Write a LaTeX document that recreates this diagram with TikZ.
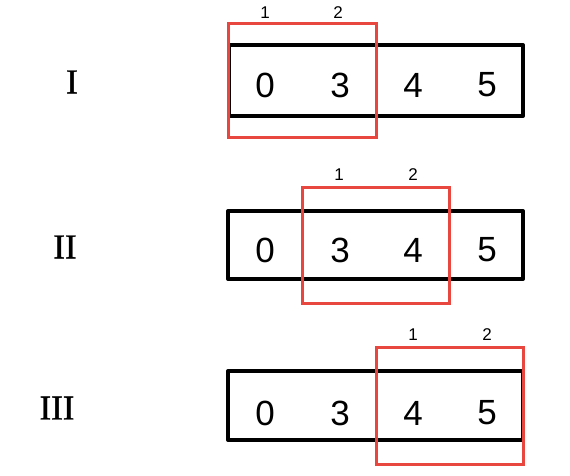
\documentclass[tikz,border=0pt]{standalone}
\usepackage{fontspec}
\setmainfont{Liberation Sans}
\newfontfamily\romanfont[FakeBold=1.2]{Liberation Serif}
\definecolor{winred}{HTML}{E8473F}
\begin{document}
\begin{tikzpicture}[x=1pt,y=-1pt,
  arr/.style={draw=black,line width=4pt,line join=round},
  win/.style={draw=winred,line width=3pt},
  digit/.style={inner sep=0pt,font=\fontsize{35}{35}\selectfont},
  idx/.style={inner sep=0pt,font=\fontsize{17}{17}\selectfont},
  rom/.style={inner sep=0pt,font=\romanfont\fontsize{35}{35}\selectfont}]
\useasboundingbox (0,0) rectangle (570,476);
% Row I
\node[rom] (rI) at (72,82) {I};
\draw[arr] (229,45) rectangle (523,116);
\node[digit] (a0) at (265,85) {0};
\node[digit] (a1) at (340,85) {3};
\node[digit] (a2) at (413,85) {4};
\node[digit] (a3) at (487,85) {5};
\draw[win] (228,24) rectangle (376,138);
\node[idx] (al1) at (265,13) {1};
\node[idx] (al2) at (338,13) {2};
% Row II
\node[rom] (rII) at (65,247) {II};
\draw[arr] (228,211) rectangle (523,279);
\node[digit] (b0) at (265,250) {0};
\node[digit] (b1) at (340,250) {3};
\node[digit] (b2) at (413,250) {4};
\node[digit] (b3) at (487,250) {5};
\draw[win] (302,187) rectangle (449,303);
\node[idx] (bl1) at (339,175) {1};
\node[idx] (bl2) at (413,175) {2};
% Row III
\node[rom] (rIII) at (57,408) {III};
\draw[arr] (228,371) rectangle (523,440);
\node[digit] (c0) at (265,413) {0};
\node[digit] (c1) at (340,413) {3};
\node[digit] (c2) at (413,413) {4};
\node[digit] (c3) at (487,413) {5};
\draw[win] (376,347) rectangle (523,464);
\node[idx] (cl1) at (413,335) {1};
\node[idx] (cl2) at (487,335) {2};
\end{tikzpicture}
\end{document}
